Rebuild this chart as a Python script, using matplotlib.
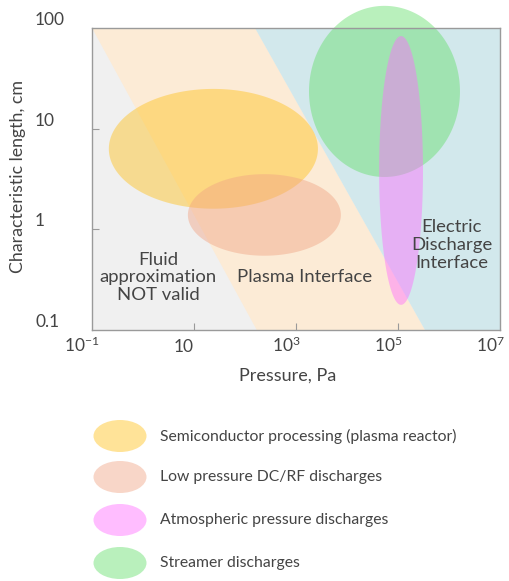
import numpy as np
import matplotlib
matplotlib.use("Agg")
import matplotlib.pyplot as plt
import matplotlib.transforms as mtrans
from matplotlib.patches import Polygon, Ellipse

plt.rcParams["font.family"] = ["Lato", "DejaVu Sans"]
plt.rcParams["mathtext.default"] = "regular"

# regions (log10 pressure at top / bottom edge of plot)
region_names = ["Fluid\napproximation\nNOT valid", "Plasma Interface", "Electric\nDischarge\nInterface"]
fluid_edge = [-1.0, 2.23]      # log10 x at y=100, y=0.1
electric_edge = [2.2, 5.53]

# discharge types: ellipses in log10 space
names = ["Semiconductor processing (plasma reactor)", "Low pressure DC/RF discharges",
         "Atmospheric pressure discharges", "Streamer discharges"]
colors = ["#ffc11b", "#f0a485", "#ff6dff", "#64de6b"]
cx = [1.38, 2.38, 5.06, 4.735]   # log10 pressure
cy = [0.80, 0.143, 0.585, 1.37]  # log10 length
wx = [4.1, 3.0, 0.86, 2.96]      # decades
hy = [1.19, 0.81, 2.67, 1.70]
draw_order = [0, 1, 3, 2]

xticks = [1e-1, 1e1, 1e3, 1e5, 1e7]
xlabels = [r"$10^{-1}$", "10", r"$10^{3}$", r"$10^{5}$", r"$10^{7}$"]
yticks = [0.1, 1, 10, 100]
ylabels = ["0.1", "1", "10", "100"]

txt = "#444444"
fig = plt.figure(figsize=(5.1, 5.81), dpi=100)
ax = fig.add_axes([92/510, 1 - 330/581, 408/510, 302/581])
ax.set_xscale("log")
ax.set_yscale("log")
ax.set_xlim(1e-1, 1e7)
ax.set_ylim(0.1, 100)
ax.set_facecolor("#f0f0f0")

ytop, ybot = 100, 0.1
peach = Polygon([(10**fluid_edge[0], ytop), (10**electric_edge[0], ytop),
                 (10**electric_edge[1], ybot), (10**fluid_edge[1], ybot)],
                closed=True, facecolor="#fcebd6", edgecolor="none", zorder=0.5)
blue = Polygon([(10**electric_edge[0], ytop), (1e7, ytop), (1e7, ybot),
                (10**electric_edge[1], ybot)],
               closed=True, facecolor="#d2e8ec", edgecolor="none", zorder=0.5)
ax.add_patch(peach)
ax.add_patch(blue)

t = np.linspace(0, 2*np.pi, 300)
for i in draw_order:
    lx = cx[i] + wx[i]/2*np.cos(t)
    ly = cy[i] + hy[i]/2*np.sin(t)
    p = Polygon(np.column_stack([10**lx, 10**ly]), closed=True, facecolor=colors[i],
                edgecolor="none", alpha=0.45, zorder=2, clip_on=(i != 3))
    ax.add_patch(p)

ax.text(0.162, 0.175, region_names[0], transform=ax.transAxes, ha="center", va="center",
        fontsize=13.3, color=txt, linespacing=1.12, zorder=3)
ax.text(0.52, 0.175, region_names[1], transform=ax.transAxes, ha="center", va="center",
        fontsize=13.3, color=txt, zorder=3)
ax.text(0.882, 0.281, region_names[2], transform=ax.transAxes, ha="center", va="center",
        fontsize=13.3, color=txt, linespacing=1.17, zorder=3)

for s in ax.spines.values():
    s.set_color("#9a9a9a")
    s.set_linewidth(1.0)
    s.set_zorder(4)

ax.set_xticks(xticks)
ax.set_xticklabels(xlabels)
ax.set_yticks(yticks)
ax.set_yticklabels(ylabels)
ax.minorticks_off()
ax.tick_params(direction="in", length=5, color="#9a9a9a", labelsize=12.5, labelcolor=txt)
ax.tick_params(axis="x", pad=15.5)
ax.tick_params(axis="y", pad=41)
for lab in ax.get_xticklabels():
    lab.set_va("baseline")
    lab.set_transform(lab.get_transform() + mtrans.ScaledTranslation(-0.1, 0, fig.dpi_scale_trans))
for lab in ax.get_yticklabels():
    lab.set_ha("left")
    lab.set_transform(lab.get_transform() + mtrans.ScaledTranslation(0, 0.095, fig.dpi_scale_trans))
# hide ticks at the very edges
for tk in ax.xaxis.get_major_ticks():
    if tk.get_loc() in (1e-1, 1e7):
        tk.tick1line.set_visible(False)
for tk in ax.yaxis.get_major_ticks():
    if tk.get_loc() in (0.1, 100):
        tk.tick1line.set_visible(False)

fig.text(288/510, 1 - 376/581, "Pressure, Pa", ha="center", va="center", fontsize=13, color=txt)
fig.text(18/510, 1 - 177/581, "Characteristic length, cm", ha="center", va="center",
         rotation=90, fontsize=12.8, color=txt)

# legend
leg_y = [436, 477, 520, 563]
for i in range(4):
    e = Ellipse((120/510, 1 - leg_y[i]/581), 53/510, 32/581, transform=fig.transFigure,
                facecolor=colors[i], alpha=0.45, edgecolor="none")
    fig.add_artist(e)
    fig.text(160/510, 1 - leg_y[i]/581, names[i], ha="left", va="center", fontsize=11.3, color=txt)

fig.savefig("out.png", dpi=100)
